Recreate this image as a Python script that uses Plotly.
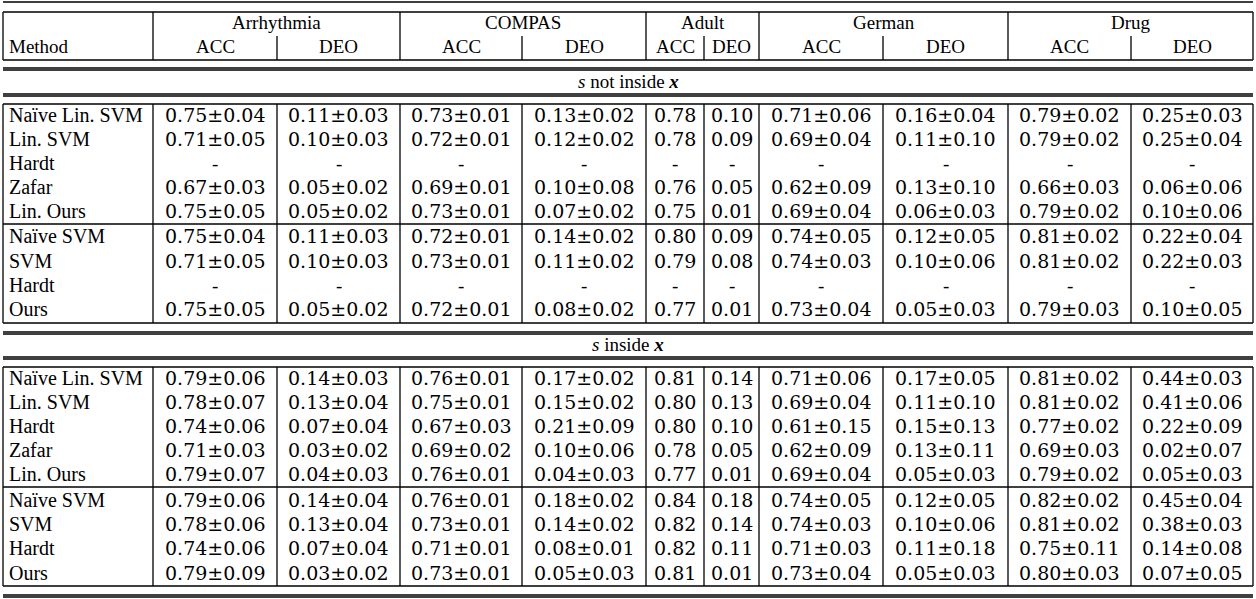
import plotly.graph_objects as go

# ---- data ----
datasets = ["Arrhythmia", "COMPAS", "Adult", "German", "Drug"]
metrics = ["ACC", "DEO"]

methods_lin = ["Naïve Lin. SVM", "Lin. SVM", "Hardt", "Zafar", "Lin. Ours"]
methods_nl = ["Naïve SVM", "SVM", "Hardt", "Ours"]

# s not inside x
no_s_lin = [
    ["0.75±0.04", "0.11±0.03", "0.73±0.01", "0.13±0.02", "0.78", "0.10", "0.71±0.06", "0.16±0.04", "0.79±0.02", "0.25±0.03"],
    ["0.71±0.05", "0.10±0.03", "0.72±0.01", "0.12±0.02", "0.78", "0.09", "0.69±0.04", "0.11±0.10", "0.79±0.02", "0.25±0.04"],
    ["-", "-", "-", "-", "-", "-", "-", "-", "-", "-"],
    ["0.67±0.03", "0.05±0.02", "0.69±0.01", "0.10±0.08", "0.76", "0.05", "0.62±0.09", "0.13±0.10", "0.66±0.03", "0.06±0.06"],
    ["0.75±0.05", "0.05±0.02", "0.73±0.01", "0.07±0.02", "0.75", "0.01", "0.69±0.04", "0.06±0.03", "0.79±0.02", "0.10±0.06"],
]
no_s_nl = [
    ["0.75±0.04", "0.11±0.03", "0.72±0.01", "0.14±0.02", "0.80", "0.09", "0.74±0.05", "0.12±0.05", "0.81±0.02", "0.22±0.04"],
    ["0.71±0.05", "0.10±0.03", "0.73±0.01", "0.11±0.02", "0.79", "0.08", "0.74±0.03", "0.10±0.06", "0.81±0.02", "0.22±0.03"],
    ["-", "-", "-", "-", "-", "-", "-", "-", "-", "-"],
    ["0.75±0.05", "0.05±0.02", "0.72±0.01", "0.08±0.02", "0.77", "0.01", "0.73±0.04", "0.05±0.03", "0.79±0.03", "0.10±0.05"],
]
# s inside x
with_s_lin = [
    ["0.79±0.06", "0.14±0.03", "0.76±0.01", "0.17±0.02", "0.81", "0.14", "0.71±0.06", "0.17±0.05", "0.81±0.02", "0.44±0.03"],
    ["0.78±0.07", "0.13±0.04", "0.75±0.01", "0.15±0.02", "0.80", "0.13", "0.69±0.04", "0.11±0.10", "0.81±0.02", "0.41±0.06"],
    ["0.74±0.06", "0.07±0.04", "0.67±0.03", "0.21±0.09", "0.80", "0.10", "0.61±0.15", "0.15±0.13", "0.77±0.02", "0.22±0.09"],
    ["0.71±0.03", "0.03±0.02", "0.69±0.02", "0.10±0.06", "0.78", "0.05", "0.62±0.09", "0.13±0.11", "0.69±0.03", "0.02±0.07"],
    ["0.79±0.07", "0.04±0.03", "0.76±0.01", "0.04±0.03", "0.77", "0.01", "0.69±0.04", "0.05±0.03", "0.79±0.02", "0.05±0.03"],
]
with_s_nl = [
    ["0.79±0.06", "0.14±0.04", "0.76±0.01", "0.18±0.02", "0.84", "0.18", "0.74±0.05", "0.12±0.05", "0.82±0.02", "0.45±0.04"],
    ["0.78±0.06", "0.13±0.04", "0.73±0.01", "0.14±0.02", "0.82", "0.14", "0.74±0.03", "0.10±0.06", "0.81±0.02", "0.38±0.03"],
    ["0.74±0.06", "0.07±0.04", "0.71±0.01", "0.08±0.01", "0.82", "0.11", "0.71±0.03", "0.11±0.18", "0.75±0.11", "0.14±0.08"],
    ["0.79±0.09", "0.03±0.02", "0.73±0.01", "0.05±0.03", "0.81", "0.01", "0.73±0.04", "0.05±0.03", "0.80±0.03", "0.07±0.05"],
]
section_titles = ["<i>s</i> not inside <b><i>x</i></b>", "<i>s</i> inside <b><i>x</i></b>"]

# ---- layout geometry (pixels) ----
W, H = 1256, 599
col_x = [3, 153, 277, 400, 522, 646, 704, 759, 883, 1008, 1131, 1253]
LW = 1.3
SERIF = "Liberation Serif"
NUM = "DejaVu Serif, serif"

shapes = []
ann = []


def hline(y, x0=col_x[0], x1=col_x[-1]):
    shapes.append(dict(type="line", x0=x0, x1=x1, y0=y, y1=y, line=dict(color="black", width=LW)))


def vline(x, y0, y1):
    shapes.append(dict(type="line", x0=x, x1=x, y0=y0, y1=y1, line=dict(color="black", width=LW)))


def text(x, y, s, font=SERIF, size=19, anchor="center"):
    ann.append(dict(x=x, y=y, text=s, showarrow=False, xanchor=anchor, yanchor="middle",
                    font=dict(family=font, size=size, color="black")))


# top rule and header box
hline(2)
hline(12)
hline(60)
for x in [col_x[0], col_x[1], col_x[3], col_x[5], col_x[7], col_x[9], col_x[11]]:
    vline(x, 12, 60)
for x in [col_x[2], col_x[4], col_x[6], col_x[8], col_x[10]]:
    vline(x, 36, 60)
text(col_x[0] + 4, 46, "Method", anchor="left")
for i, d in enumerate(datasets):
    text((col_x[1 + 2 * i] + col_x[3 + 2 * i]) / 2, 22, d)
    for j, m in enumerate(metrics):
        text((col_x[1 + 2 * i + j] + col_x[2 + 2 * i + j]) / 2, 46, m)


def block(top, sep, bottom, rows_a, rows_b, names_a, names_b, ys_a, ys_b):
    hline(top)
    hline(sep)
    hline(bottom)
    for x in col_x:
        vline(x, top, bottom)
    for names, rows, ys in [(names_a, rows_a, ys_a), (names_b, rows_b, ys_b)]:
        for name, row, y in zip(names, rows, ys):
            text(col_x[0] + 4, y, name, size=20, anchor="left")
            for k, v in enumerate(row):
                text((col_x[k + 1] + col_x[k + 2]) / 2, y, v, font=NUM if v != "-" else SERIF, size=19)


# section 1
hline(68); hline(70)
text(W / 2, 81, section_titles[0])
hline(94); hline(96)
block(104, 224, 323, no_s_lin, no_s_nl, methods_lin, methods_nl,
      [115, 139, 163, 187, 211], [236, 261, 285, 309])

# section 2
hline(332); hline(334)
text(W / 2, 344, section_titles[1])
hline(357); hline(359)
block(367, 487, 586, with_s_lin, with_s_nl, methods_lin, methods_nl,
      [378, 402, 426, 450, 474], [500, 524, 548, 573])
hline(595); hline(597)

fig = go.Figure()
fig.update_layout(
    width=W, height=H, margin=dict(l=0, r=0, t=0, b=0),
    paper_bgcolor="white", plot_bgcolor="white",
    xaxis=dict(range=[0, W], visible=False, fixedrange=True),
    yaxis=dict(range=[H, 0], visible=False, fixedrange=True),
    shapes=shapes, annotations=ann, showlegend=False,
)
fig.write_html("out.html", config={"displayModeBar": False},
               post_script="document.body.style.margin='0';document.body.style.padding='0';document.body.style.overflow='hidden';")
